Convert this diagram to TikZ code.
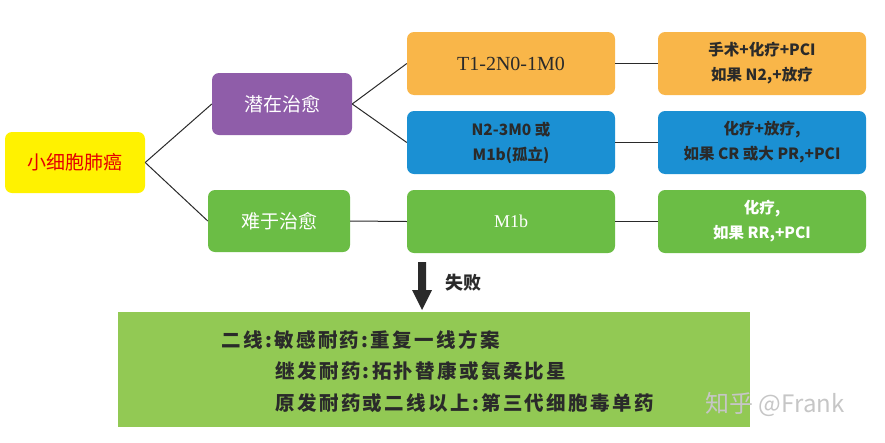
\documentclass[tikz,border=0pt]{standalone}
\usepackage{fontspec}
\newfontfamily\cjk{Noto Sans CJK SC}
\newfontfamily\cjkw[LetterSpace=12]{Noto Sans CJK SC}
\setmainfont{Liberation Serif}
\definecolor{cyel}{HTML}{FFF200}
\definecolor{cpur}{HTML}{8F5DA9}
\definecolor{cgrn}{HTML}{6BBD45}
\definecolor{corg}{HTML}{F9B649}
\definecolor{cblu}{HTML}{1B90D3}
\definecolor{cbot}{HTML}{92C954}
\definecolor{ctxt}{HTML}{2A2A2A}
\tikzset{
 bx/.style={rounded corners=7pt, minimum width=#1, align=center, font=\cjk\bfseries\fontsize{15.5}{25}\selectfont, inner sep=0pt},
 bx/.default=208pt,
 ln/.style={draw=ctxt, line width=1pt}
}
\begin{document}
\begin{tikzpicture}[x=1pt,y=-1pt]
\useasboundingbox (0,0) rectangle (885,442);
\node[bx=140pt, minimum height=61pt, fill=cyel, text=red!90!black, font=\cjk\fontsize{19}{20}\selectfont] (root) at (75,162.5) {小细胞肺癌};
\node[bx=140pt, minimum height=62pt, fill=cpur, text=white, font=\cjk\fontsize{19}{20}\selectfont] (pot) at (282,104) {潜在治愈};
\node[bx=142pt, minimum height=62pt, fill=cgrn, text=white, font=\cjk\fontsize{19}{20}\selectfont] (hard) at (279,221) {难于治愈};
\node[bx, minimum height=63pt, fill=corg, text=ctxt, font=\fontsize{20}{20}\selectfont] (a1) at (511,63.5) {T1-2N0-1M0};
\node[bx, minimum height=63pt, fill=cblu, text=ctxt] (b1) at (511,142.5) {N2-3M0 或\\M1b(孤立)};
\node[bx, minimum height=63pt, fill=cgrn, text=white, font=\fontsize{18}{20}\selectfont] (c1) at (511,221.5) {M1b};
\node[bx, minimum height=63pt, fill=corg, text=ctxt] (a2) at (762,63.5) {手术+化疗+PCI\\如果 N2,+放疗};
\node[bx, minimum height=63pt, fill=cblu, text=ctxt] (b2) at (762,142.5) {化疗+放疗,\\如果 CR 或大 PR,+PCI};
\node[bx, minimum height=63pt, fill=cgrn, text=white] (c2) at (762,221.5) {化疗,\\如果 RR,+PCI};
\draw[ln] (root.east) -- (pot.west);
\draw[ln] (root.east) -- (hard.west);
\draw[ln] (pot.east) -- (a1.west);
\draw[ln] (pot.east) -- (b1.west);
\draw[ln] (hard.east) -- (c1.west);
\draw[ln] (a1.east) -- (a2.west);
\draw[ln] (b1.east) -- (b2.west);
\draw[ln] (c1.east) -- (c2.west);
\node[fill=cbot, minimum width=632pt, minimum height=115pt, inner sep=0pt] (bot) at (434,369.5) {};
\fill[ctxt] (418,262) rectangle (426,290) (412,290) -- (432,290) -- (422,310) -- cycle;
\node[font=\cjk\bfseries\fontsize{18}{20}\selectfont, text=ctxt, anchor=west] (fail) at (442,283) {失败};
\begin{scope}[font=\cjkw\bfseries\fontsize{19.5}{20}\selectfont, text=ctxt]
\node[anchor=west] (l1) at (218,340) {二线:敏感耐药:重复一线方案};
\node[anchor=west] (l2) at (272,371) {继发耐药:拓扑替康或氨柔比星};
\node[anchor=west] (l3) at (272,403) {原发耐药或二线以上:第三代细胞毒单药};
\end{scope}
\node[font=\cjk\fontsize{24}{24}\selectfont, text=gray!45, anchor=west] (wm) at (702,404) {知乎 @Frank};
\end{tikzpicture}
\end{document}
